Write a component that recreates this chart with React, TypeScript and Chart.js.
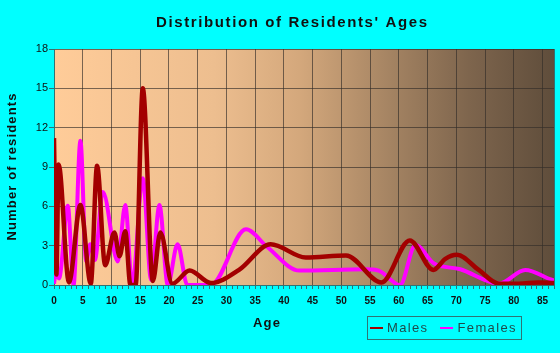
import React, { useEffect, useRef } from 'react';
import { Chart, registerables } from 'chart.js';

Chart.register(...registerables);

// ---- data ----
const maleAges = [0, 0.42, 0.8, 2.6, 4.6, 6.4, 7.5, 8.9, 10.5, 11.4, 12.4, 13.3, 14.2, 15.45, 17.2, 18.5, 20.6, 23.6, 27.3, 32.2, 37.7, 43.8, 50.8, 57.0, 61.9, 66.0, 68.1, 70.1, 73.9, 77.4, 80.9, 84.3, 87];
const maleCounts = [11.2, 0.8, 9.2, 0.2, 6.1, 0.1, 9.1, 1.5, 4.0, 2.2, 4.1, 0, 0, 15, 0.3, 4.0, 0.1, 1.1, 0.15, 1.15, 3.1, 2.1, 2.25, 0.2, 3.4, 1.15, 2.0, 2.3, 1.15, 0.1, 0.1, 0.2, 0.15];

const femaleAges = [0, 0.3, 0.87, 2.4, 3.4, 4.6, 5.6, 6.3, 7.1, 8.5, 11.1, 12.4, 13.6, 15.45, 16.9, 18.35, 19.8, 21.5, 23.2, 27.3, 33.4, 37.1, 42.7, 54.2, 56.5, 60.2, 62.9, 66.1, 70.7, 77.4, 82.0, 86.6, 87];
const femaleCounts = [0.1, 0.9, 0.5, 6.05, 0, 11.0, 1.8, 3.1, 1.9, 7.1, 1.8, 6.1, 0, 8.15, 0.4, 6.1, 0, 3.1, 0, 0, 4.25, 2.9, 1.1, 1.2, 1.1, 0, 3.05, 1.65, 1.2, 0.1, 1.15, 0.4, 0.35];

const seriesLabels = ['Males', 'Females'];
const seriesColors = ['#a30000', '#ff00ff'];

const xMin = 0;
const xMax = 87;
const xLabelStep = 5;
const yMin = 0;
const yMax = 18;
const yStep = 3;

const chartTitle = "Distribution of Residents' Ages";
const xAxisTitle = 'Age';
const yAxisTitle = 'Number of residents';

// ---- styles ----
const BG = '#00ffff';
const AXIS = '#2f7474';
const GRID = 'rgba(50,45,40,0.65)';
const TEXT = '#111111';
const LEGEND_TEXT = '#1e4a4a';
const FONT = '"Liberation Sans", Arial, sans-serif';

function drawSpaced(ctx: CanvasRenderingContext2D, text: string, cx: number, cy: number, font: string, width: number, color: string) {
  ctx.save();
  ctx.font = font;
  (ctx as any).letterSpacing = '0px';
  const w = ctx.measureText(text).width;
  const n = Math.max(text.length - 1, 1);
  const sp = (width - w) / n;
  (ctx as any).letterSpacing = sp + 'px';
  ctx.fillStyle = color;
  ctx.textAlign = 'left';
  ctx.textBaseline = 'middle';
  ctx.fillText(text, cx - width / 2, cy);
  ctx.restore();
}

const decorPlugin = {
  id: 'decor',
  beforeDraw(chart: any) {
    const { ctx, chartArea } = chart;
    const { left, top, right, bottom } = chartArea;
    ctx.save();
    ctx.fillStyle = BG;
    ctx.fillRect(0, 0, chart.width, chart.height);
    const g = ctx.createLinearGradient(left, 0, right, 0);
    g.addColorStop(0, '#ffcc99');
    g.addColorStop(0.32, '#edbe8f');
    g.addColorStop(0.49, '#d4a87c');
    g.addColorStop(0.69, '#a08060');
    g.addColorStop(0.83, '#7e654d');
    g.addColorStop(1, '#5f4d3b');
    ctx.fillStyle = g;
    ctx.fillRect(left, top, right - left, bottom - top);
    ctx.restore();
  },
  afterDraw(chart: any) {
    const { ctx, chartArea } = chart;
    const { left, top, right, bottom } = chartArea;
    ctx.save();
    // right frame line
    ctx.strokeStyle = AXIS;
    ctx.lineWidth = 1;
    ctx.beginPath();
    ctx.moveTo(Math.round(right) + 0.5, top);
    ctx.lineTo(Math.round(right) + 0.5, bottom);
    ctx.stroke();
    ctx.restore();

    // title
    drawSpaced(ctx, chartTitle, 291.5, 23, `bold 15px ${FONT}`, 271, TEXT);
    // x axis title
    drawSpaced(ctx, xAxisTitle, 266.5, 323, `bold 13px ${FONT}`, 27, TEXT);
    // y axis title
    ctx.save();
    ctx.translate(12.5, (top + bottom) / 2);
    ctx.rotate(-Math.PI / 2);
    drawSpaced(ctx, yAxisTitle, 0, 0, `bold 13px ${FONT}`, 147, TEXT);
    ctx.restore();

    // legend
    ctx.save();
    ctx.strokeStyle = AXIS;
    ctx.lineWidth = 1;
    ctx.strokeRect(367.5, 316.5, 154, 23);
    const items = chart.data.datasets;
    const lx = [370, 440];
    const tx = [387, 457.5];
    const tw = [40, 58];
    items.forEach((ds: any, i: number) => {
      ctx.strokeStyle = ds.borderColor;
      ctx.lineWidth = 2;
      ctx.beginPath();
      ctx.moveTo(lx[i], 328);
      ctx.lineTo(lx[i] + 13, 328);
      ctx.stroke();
      drawSpaced(ctx, ds.label, tx[i] + tw[i] / 2, 328, `13px ${FONT}`, tw[i], LEGEND_TEXT);
    });
    ctx.restore();
  },
};

export default function App() {
  const ref = useRef<HTMLCanvasElement | null>(null);

  useEffect(() => {
    if (!ref.current) return;
    const chart = new Chart(ref.current, {
      type: 'line',
      data: {
        datasets: [
          {
            label: seriesLabels[0],
            data: maleAges.map((a, i) => ({ x: a, y: maleCounts[i] })),
            borderColor: seriesColors[0],
            backgroundColor: seriesColors[0],
            borderWidth: 4.5,
            pointRadius: 0,
            cubicInterpolationMode: 'monotone',
            fill: false,
          },
          {
            label: seriesLabels[1],
            data: femaleAges.map((a, i) => ({ x: a, y: femaleCounts[i] })),
            borderColor: seriesColors[1],
            backgroundColor: seriesColors[1],
            borderWidth: 4,
            pointRadius: 0,
            cubicInterpolationMode: 'monotone',
            fill: false,
          },
        ],
      },
      options: {
        responsive: false,
        animation: false,
        devicePixelRatio: 1,
        layout: { padding: { top: 49, left: 0, right: 5, bottom: 48 } },
        plugins: {
          legend: { display: false },
          title: { display: false },
          tooltip: { enabled: false },
        },
        scales: {
          x: {
            type: 'linear',
            min: xMin,
            max: xMax,
            afterFit: (s: any) => { s.height = 20; },
            ticks: {
              stepSize: 1,
              autoSkip: false,
              maxRotation: 0,
              padding: 6,
              color: TEXT,
              font: { family: FONT, size: 10, weight: 'bold' },
              callback: (v: any) => (v % xLabelStep === 0 ? String(v) : ''),
            },
            grid: {
              color: (c: any) => (c.tick && c.tick.value % xLabelStep === 0 && c.tick.value !== xMin ? GRID : 'rgba(0,0,0,0)'),
              tickColor: AXIS,
              tickLength: 4,
            },
            border: { color: AXIS, width: 1 },
          },
          y: {
            min: yMin,
            max: yMax,
            afterFit: (s: any) => { s.width = 54; },
            ticks: {
              stepSize: yStep,
              padding: 1,
              color: TEXT,
              font: { family: FONT, size: 11 },
            },
            grid: {
              color: (c: any) => (c.tick && c.tick.value !== yMin ? GRID : 'rgba(0,0,0,0)'),
              tickColor: AXIS,
              tickLength: 5,
            },
            border: { color: AXIS, width: 1 },
          },
        },
      },
      plugins: [decorPlugin],
    } as any);
    return () => chart.destroy();
  }, []);

  return (
    <div style={{ position: 'absolute', left: 0, top: 0, width: 560, height: 353 }}>
      <canvas ref={ref} width={560} height={353} style={{ display: 'block' }} />
    </div>
  );
}
